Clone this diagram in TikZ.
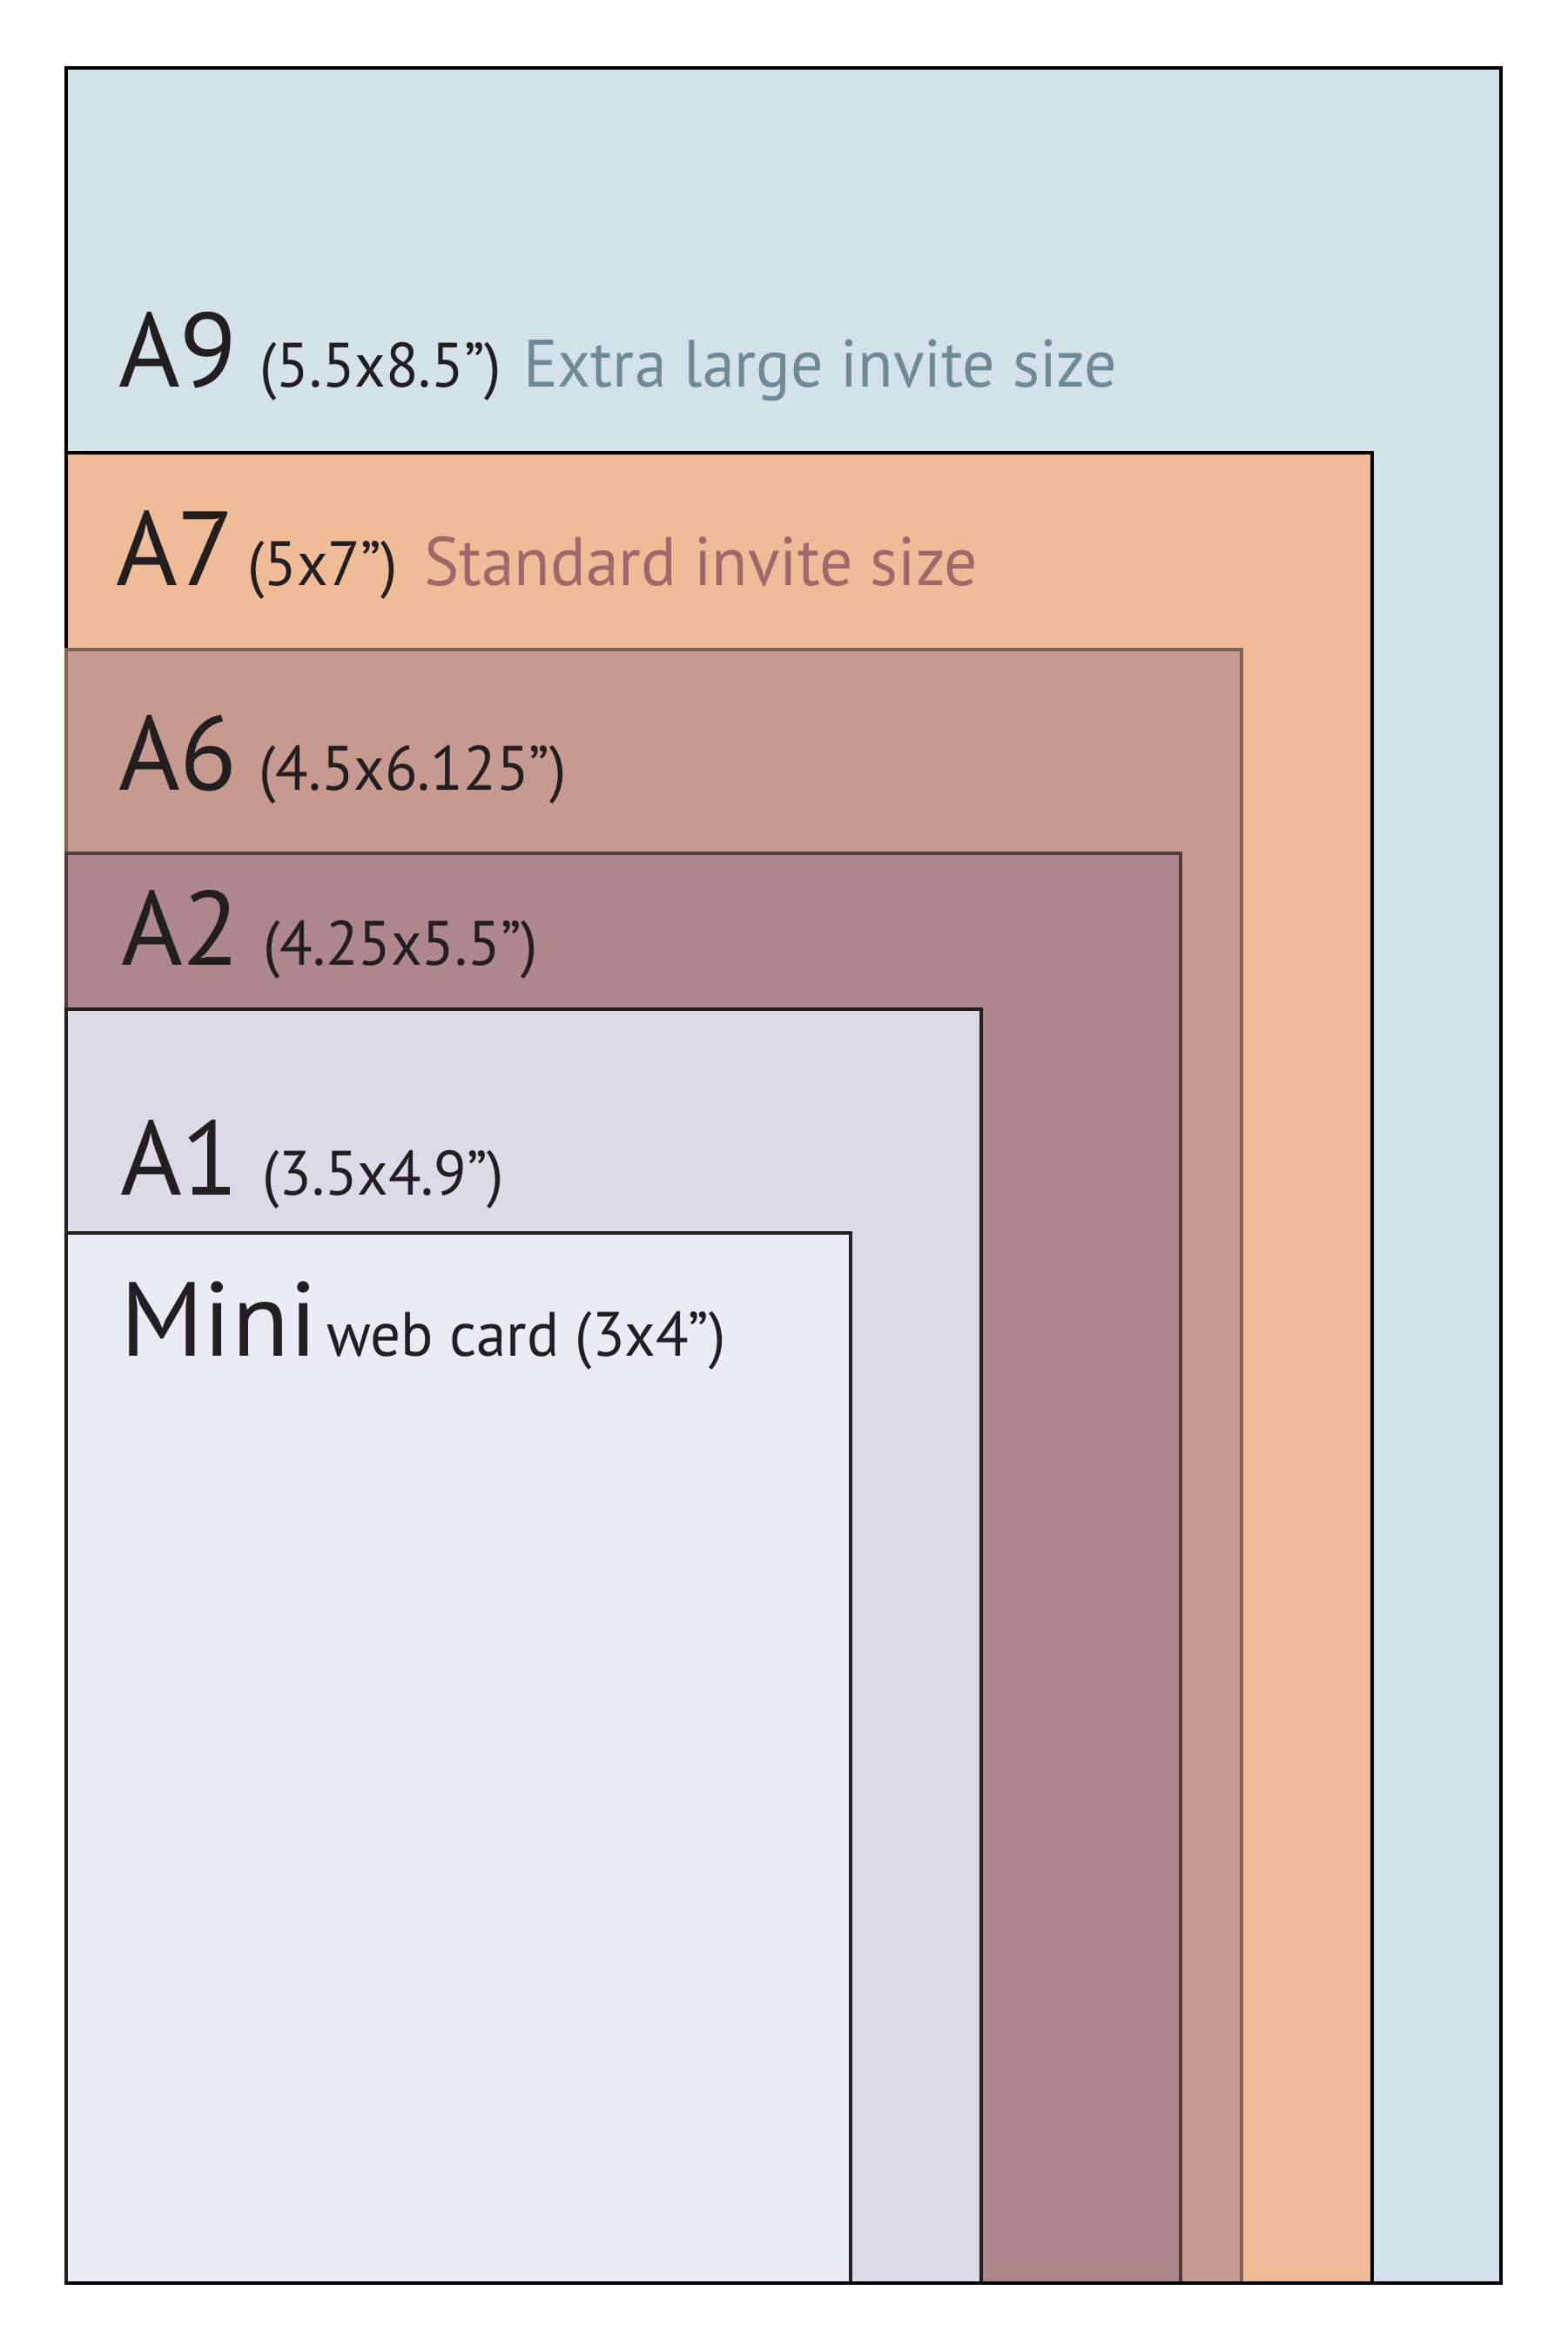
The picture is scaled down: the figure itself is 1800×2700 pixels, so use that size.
\documentclass[tikz,border=0pt]{standalone}
\usepackage{fontspec}
\setmainfont{PT Sans}
\newfontfamily\narrowsans[FakeStretch=0.96]{PT Sans}
\definecolor{ink}{HTML}{231F20}
\definecolor{fA9}{HTML}{D3E2E9}
\definecolor{fA7}{HTML}{F0BC98}
\definecolor{fA6}{HTML}{C69A8F}
\definecolor{fA2}{HTML}{AE878D}
\definecolor{fA1}{HTML}{DBDAE6}
\definecolor{fMini}{HTML}{EBEBF4}
\definecolor{lA6}{HTML}{7E6355}
\definecolor{lA2}{HTML}{4E3C3E}
\definecolor{tA9}{HTML}{6F8A97}
\definecolor{tA7}{HTML}{A0686B}
\begin{document}
\begin{tikzpicture}[x=1pt,y=-1pt,
  card/.style={line width=4pt, line join=miter},
  big/.style={anchor=base west, inner sep=0pt, text=ink, font=\fontsize{121}{121}\selectfont},
  dim/.style={anchor=base west, inner sep=0pt, text=ink, font=\narrowsans\fontsize{72}{72}\selectfont},
  note/.style={anchor=base west, inner sep=0pt, font=\narrowsans\fontsize{77}{77}\selectfont},
  notebig/.style={anchor=base west, inner sep=0pt, font=\narrowsans\fontsize{79}{79}\selectfont}]
\useasboundingbox[fill=white] (0,0) rectangle (1800,2700);
% cards
\draw[card, fill=fA9, draw=black] (76,78) rectangle (1724,2622);
\draw[card, fill=fA7, draw=black] (76,520) rectangle (1576,2622);
\draw[card, fill=fA6, draw=lA6] (76,746) rectangle (1426,2622);
\draw[card, fill=fA2, draw=lA2] (76,980) rectangle (1356,2622);
\draw[card, fill=fA1, draw=ink] (76,1159) rectangle (1127,2622);
\draw[card, fill=fMini, draw=ink] (76,1416) rectangle (977,2622);
\draw[line width=4pt, black] (76,2622) -- (1724,2622);
% labels
\node[big] (a9) at (136,444) {A9};
\node[dim] (a9d) at (298,444) {(5.5x8.5”)};
\node[note, text=tA9] (a9n) at (601,444) {Extra large invite size};
\node[big] (a7) at (133,672) {A7};
\node[dim] (a7d) at (284,672) {(5x7”)};
\node[notebig, text=tA7] (a7n) at (487,672) {Standard invite size};
\node[big] (a6) at (136,907) {A6};
\node[dim] (a6d) at (297,907) {(4.5x6.125”)};
\node[big] (a2) at (139,1108) {A2};
\node[dim] (a2d) at (302,1108) {(4.25x5.5”)};
\node[big] (a1) at (138,1372) {A1};
\node[dim] (a1d) at (301,1372) {(3.5x4.9”)};
\node[big] (mini) at (138,1557) {Mini};
\node[dim] (minid) at (375,1557) {web card (3x4”)};
\end{tikzpicture}
\end{document}
